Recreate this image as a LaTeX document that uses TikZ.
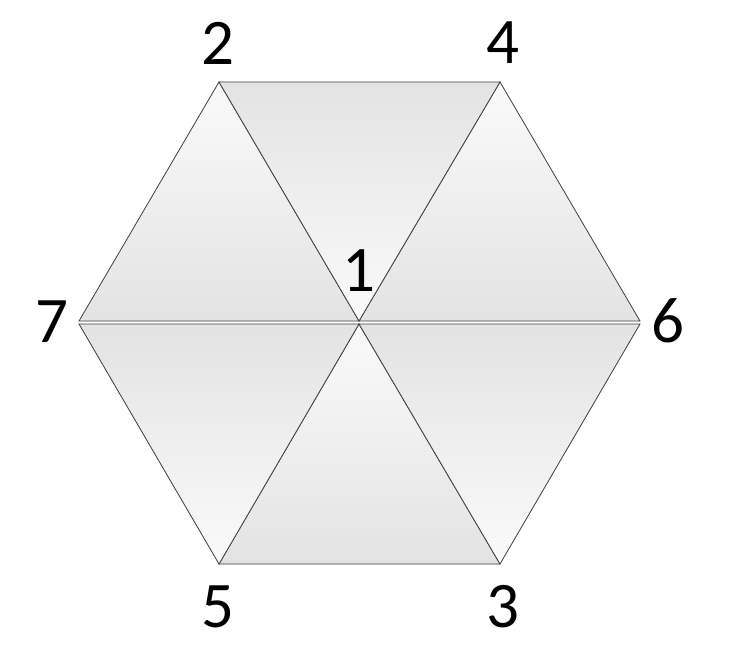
\documentclass[tikz,border=0pt]{standalone}
\usepackage{fontspec}
\setmainfont{Carlito}
\begin{document}
\begin{tikzpicture}[x=1pt, y=-1pt,
    facet/.style={draw=black!75, line width=0.8pt, line join=miter},
    uptri/.style={facet, top color=black!2, bottom color=black!11},
    downtri/.style={facet, top color=black!11, bottom color=black!2},
    shadowtri/.style={fill=black!16, draw=none},
    num/.style={font=\fontsize{65}{70}\selectfont, inner sep=0pt}]
    \useasboundingbox (0,0) rectangle (735,654);

    % Corners of the hexagon, upper row
    \coordinate (v2) at (219,82);
    \coordinate (v4) at (500,82);
    \coordinate (v7a) at (79,321);
    \coordinate (v1a) at (359,321);
    \coordinate (v6a) at (640,321);
    % Corners of the hexagon, lower row
    \coordinate (v7b) at (79,324);
    \coordinate (v1b) at (359,324);
    \coordinate (v6b) at (640,324);
    \coordinate (v5) at (219,564);
    \coordinate (v3) at (500,564);

    % Shadows first
    \foreach \a/\b/\c/\dx in {v2/v7a/v1a/-1.5, v2/v4/v1a/0, v4/v1a/v6a/1.5,
                              v7b/v1b/v5/-1.5, v1b/v5/v3/0, v1b/v6b/v3/1.5} {
        \fill[shadowtri, shift={(\dx+2,2)}] (\a) -- (\b) -- (\c) -- cycle;
    }

    % Triangles pointing up
    \foreach \a/\b/\c/\dx in {v2/v7a/v1a/-1.5, v4/v1a/v6a/1.5, v1b/v5/v3/0} {
        \draw[uptri, shift={(\dx,0)}] (\a) -- (\b) -- (\c) -- cycle;
    }

    % Triangles pointing down
    \foreach \a/\b/\c/\dx in {v2/v4/v1a/0, v7b/v1b/v5/-1.5, v1b/v6b/v3/1.5} {
        \draw[downtri, shift={(\dx,0)}] (\a) -- (\b) -- (\c) -- cycle;
    }

    % Corner numbers
    \node[num] (n1) at (359,271) {1};
    \node[num] (n2) at (218,43) {2};
    \node[num] (n4) at (503,43) {4};
    \node[num] (n7) at (52,322) {7};
    \node[num] (n6) at (668,321) {6};
    \node[num] (n5) at (218,607) {5};
    \node[num] (n3) at (503,607) {3};
\end{tikzpicture}
\end{document}
